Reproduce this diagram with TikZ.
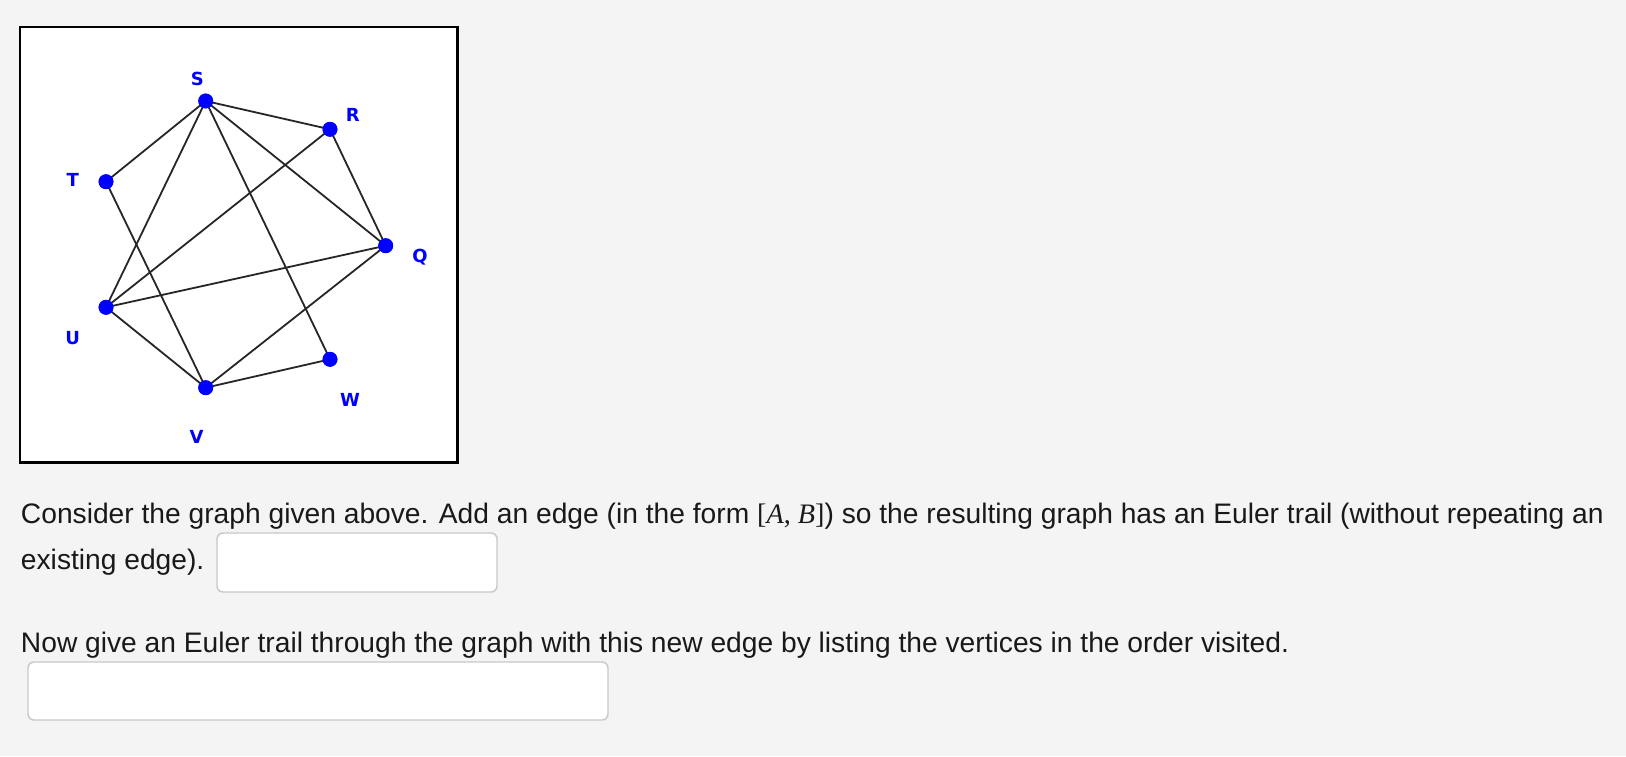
\documentclass[tikz,border=0pt]{standalone}
\usepackage{fontspec}
\setmainfont{Liberation Sans}
\newfontfamily\lblfont{DejaVu Sans}
\newfontfamily\mserif{Liberation Serif}
\definecolor{pagebg}{HTML}{F4F4F4}
\definecolor{boxline}{HTML}{C8C8C8}
\definecolor{vblue}{RGB}{0,0,255}
\begin{document}
\begin{tikzpicture}[x=0.75pt,y=-0.75pt,
  vert/.style={circle,fill=vblue,inner sep=0pt,minimum size=11pt},
  vlabel/.style={text=vblue,font=\lblfont\bfseries\fontsize{13.5}{13.5}\selectfont,inner sep=0pt},
  edge/.style={draw=black!85,line width=1.35pt},
  qtext/.style={anchor=base west,inner sep=0pt,font=\fontsize{21.15}{24}\selectfont,text=black!90},
  inbox/.style={draw=boxline,fill=white,line width=1.1pt,rounded corners=4.5pt}]
\useasboundingbox[fill=pagebg] (0,0) rectangle (1626,756);
% frame
\draw[fill=white,line width=1.6pt] (20,27) rectangle (457.5,462.5);
% vertices
\node[vert] (S) at (205.7,101) {};
\node[vert] (R) at (330,129.3) {};
\node[vert] (T) at (106,181.7) {};
\node[vert] (Q) at (385.7,245.7) {};
\node[vert] (U) at (106,307.3) {};
\node[vert] (W) at (330,359.3) {};
\node[vert] (V) at (205.7,387.7) {};
% edges
\draw[edge] (S.center) -- (R.center);
\draw[edge] (S.center) -- (T.center);
\draw[edge] (S.center) -- (U.center);
\draw[edge] (S.center) -- (Q.center);
\draw[edge] (S.center) -- (W.center);
\draw[edge] (R.center) -- (Q.center);
\draw[edge] (R.center) -- (U.center);
\draw[edge] (T.center) -- (V.center);
\draw[edge] (Q.center) -- (U.center);
\draw[edge] (Q.center) -- (V.center);
\draw[edge] (U.center) -- (V.center);
\draw[edge] (V.center) -- (W.center);
% redraw dots on top
\foreach \n in {S,R,T,Q,U,W,V} \fill[vblue] (\n) circle (7.5);
% labels
\node[vlabel] (lS) at (197.3,79.2) {S};
\node[vlabel] (lR) at (352.7,115) {R};
\node[vlabel] (lT) at (72.7,180) {T};
\node[vlabel] (lQ) at (420,257.5) {Q};
\node[vlabel] (lU) at (72.7,337.7) {U};
\node[vlabel] (lW) at (350,399.7) {W};
\node[vlabel] (lV) at (196.7,436.7) {V};
% question text
\node[qtext] (q1) at (20.7,523) {Consider the graph given above. Add an edge (in the form {\mserif[\textit{A}, \textit{B}]}) so the resulting graph has an Euler trail (without repeating an};
\node[qtext] (q2) at (20.7,569) {existing edge).};
\draw[inbox] (217,533) rectangle (497,592);
\node[qtext] (q3) at (20.7,652) {Now give an Euler trail through the graph with this new edge by listing the vertices in the order visited.};
\draw[inbox] (28,662) rectangle (608,720);
\end{tikzpicture}
\end{document}
